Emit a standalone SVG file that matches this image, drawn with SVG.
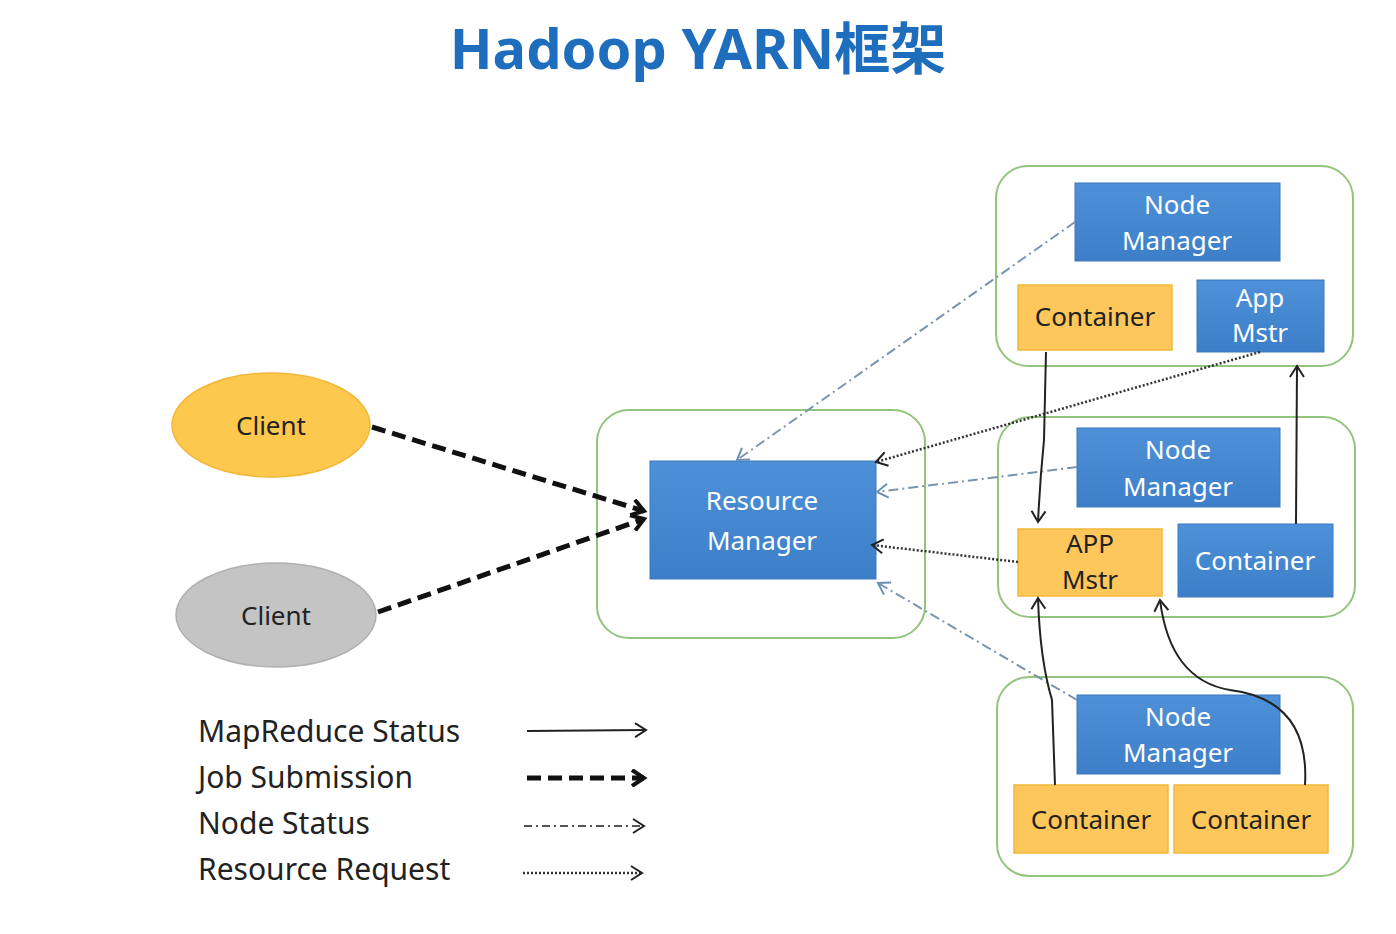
<svg xmlns="http://www.w3.org/2000/svg" width="1396" height="934" viewBox="0 0 1396 934">
<style>
.t{font-family:"Microsoft YaHei","Noto Sans","Open Sans",sans-serif;font-size:26px;text-anchor:middle}
.w{fill:#fff}.d{fill:#222}
.box{fill:none;stroke:#93c47d;stroke-width:2}
.bl{fill:url(#gb);stroke:#3a78bd;stroke-width:1}
.or{fill:#fdc75c;stroke:#f0b83a;stroke-width:1.5}
.ms{stroke:#222;stroke-width:2;fill:none}
.js{stroke:#111;stroke-width:5;stroke-dasharray:14 7;fill:none}
.ns{stroke:#7a94b0;stroke-width:2;stroke-dasharray:10 4 2 4;fill:none}
.rr{stroke:#333;stroke-width:2.5;stroke-dasharray:2 2;fill:none}
.lg{font-family:"Microsoft YaHei","Noto Sans","Open Sans",sans-serif;font-size:30px;fill:#222}
</style>
<defs>
<linearGradient id="gb" x1="0" y1="0" x2="0" y2="1"><stop offset="0" stop-color="#4f91d8"/><stop offset="1" stop-color="#3c7fc8"/></linearGradient>
<marker id="ao" markerWidth="16" markerHeight="16" refX="13" refY="8" orient="auto" markerUnits="userSpaceOnUse"><path d="M2,1 L13,8 L2,15" fill="none" stroke="#222" stroke-width="2"/></marker>
<marker id="ab" markerWidth="18" markerHeight="18" refX="14" refY="9" orient="auto" markerUnits="userSpaceOnUse"><path d="M2,1 L14,9 L2,17" fill="none" stroke="#111" stroke-width="4"/></marker>
<marker id="an" markerWidth="16" markerHeight="16" refX="13" refY="8" orient="auto" markerUnits="userSpaceOnUse"><path d="M2,1 L13,8 L2,15" fill="none" stroke="#6d8fb3" stroke-width="2"/></marker>
</defs>
<text x="698" y="69" font-family="Microsoft YaHei,'Noto Sans','Noto Sans CJK SC',sans-serif" font-size="56" font-weight="bold" fill="#1f6ebd" text-anchor="middle">Hadoop YARN框架</text>
<g id="client1"><ellipse cx="271" cy="425" rx="99" ry="52" fill="#fdc84e" stroke="#f2b73a" stroke-width="1.5"/><text class="t d" x="271" y="435">Client</text></g>
<g id="client2"><ellipse cx="276" cy="615" rx="100" ry="52" fill="#c4c4c4" stroke="#b0b0b0" stroke-width="1.5"/><text class="t d" x="276" y="625">Client</text></g>
<g id="rmgroup"><rect class="box" x="597" y="410" width="328" height="228" rx="32"/>
<g id="rm"><rect class="bl" x="650" y="461" width="226" height="118"/><text class="t w" x="762" y="510" font-size="28">Resource</text><text class="t w" x="762" y="550" font-size="28">Manager</text></g></g>
<g id="node1"><rect class="box" x="996" y="166" width="357" height="200" rx="32"/>
<rect class="bl" x="1075" y="183" width="205" height="78"/><text class="t w" x="1177" y="214">Node</text><text class="t w" x="1177" y="250">Manager</text>
<rect class="or" x="1018" y="285" width="154" height="65"/><text class="t d" x="1095" y="326">Container</text>
<rect class="bl" x="1197" y="280" width="127" height="72"/><text class="t w" x="1260" y="307">App</text><text class="t w" x="1260" y="342">Mstr</text></g>
<g id="node2"><rect class="box" x="998" y="417" width="357" height="200" rx="32"/>
<rect class="bl" x="1077" y="428" width="203" height="79"/><text class="t w" x="1178" y="459">Node</text><text class="t w" x="1178" y="496">Manager</text>
<rect class="or" x="1018" y="529" width="144" height="67"/><text class="t d" x="1090" y="553">APP</text><text class="t d" x="1090" y="589">Mstr</text>
<rect class="bl" x="1178" y="524" width="155" height="73"/><text class="t w" x="1255" y="570">Container</text></g>
<g id="node3"><rect class="box" x="997" y="677" width="356" height="199" rx="32"/>
<rect class="bl" x="1077" y="695" width="203" height="79"/><text class="t w" x="1178" y="726">Node</text><text class="t w" x="1178" y="762">Manager</text>
<rect class="or" x="1014" y="785" width="154" height="68"/><text class="t d" x="1091" y="829">Container</text>
<rect class="or" x="1174" y="785" width="154" height="68"/><text class="t d" x="1251" y="829">Container</text></g>
<g id="connectors">
<path class="js" d="M372,427 L644,511" marker-end="url(#ab)"/>
<path class="js" d="M378,612 L644,519" marker-end="url(#ab)"/>
<path class="ns" d="M1075,222 L737,460" marker-end="url(#an)"/>
<path class="ns" d="M1077,467 L877,492" stroke-width="3" marker-end="url(#an)"/>
<path class="ns" d="M1077,700 L878,583" marker-end="url(#an)"/>
<path class="rr" d="M1260,352 L876,462" marker-end="url(#ao)"/>
<path class="rr" d="M1018,562 L872,545" marker-end="url(#ao)"/>
<path class="ms" d="M1046,352 L1044,440 Q1040,480 1038,522" marker-end="url(#ao)"/>
<path class="ms" d="M1296,524 L1297,366" marker-end="url(#ao)"/>
<path class="ms" d="M1055,785 L1052,700 Q1040,660 1038,598" marker-end="url(#ao)"/>
<path class="ms" d="M1305,785 Q1310,700 1230,690 Q1170,680 1160,600" marker-end="url(#ao)"/>
</g>
<g id="legend">
<text class="lg" x="198" y="742">MapReduce  Status</text>
<text class="lg" x="198" y="788">Job Submission</text>
<text class="lg" x="198" y="834">Node Status</text>
<text class="lg" x="198" y="880">Resource Request</text>
<path class="ms" d="M527,731 L646,730" marker-end="url(#ao)"/>
<path class="js" d="M527,778 L644,778" marker-end="url(#ab)"/>
<path d="M524,826 L644,826" stroke="#555" stroke-width="2" stroke-dasharray="8 4 2 4" fill="none" marker-end="url(#ao)"/>
<path class="rr" d="M523,873 L642,873" stroke-width="2" marker-end="url(#ao)"/>
</g>
</svg>
